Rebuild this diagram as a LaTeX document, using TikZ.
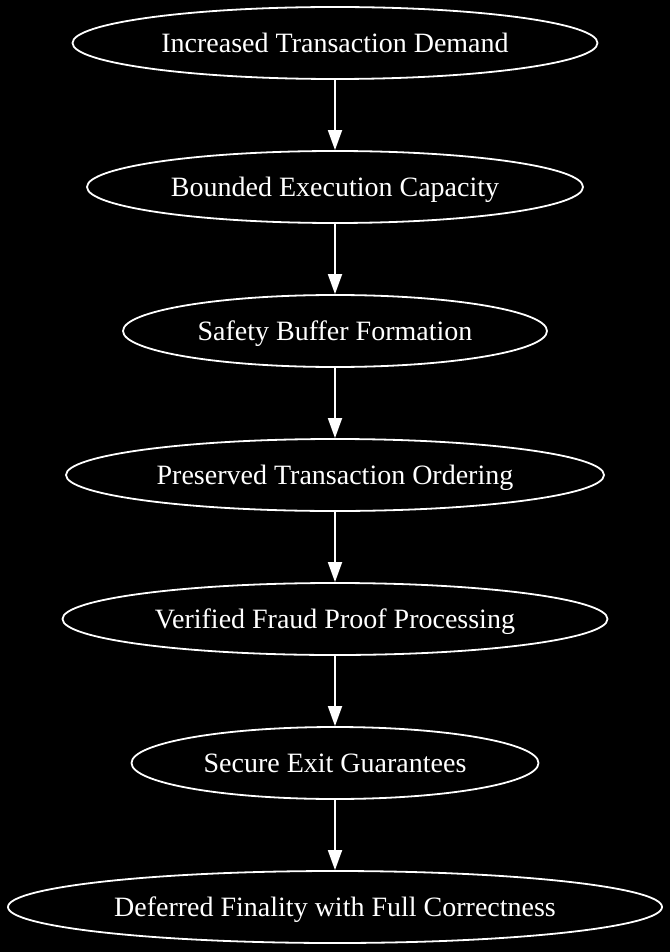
\documentclass[tikz,border=0pt]{standalone}
\usepackage{fontspec}
\setmainfont{Liberation Serif}
\usetikzlibrary{shapes.geometric,arrows.meta}
\begin{document}
\begin{tikzpicture}[x=0.5pt,y=-0.5pt,
 box/.style={ellipse,draw=white,line width=0.9pt,text=white,inner sep=0pt,minimum height=36pt,text height=12.6pt,text depth=3pt,font=\fontsize{14}{16}\selectfont},
 conn/.style={draw=white,line width=0.9pt,-{Triangle[length=10pt,width=7pt]}}]
\fill[black] (0,0) rectangle (670,952);
\node[box,minimum width=262.5pt] (n1) at (335,43) {Increased Transaction Demand};
\node[box,minimum width=248pt] (n2) at (335,187) {Bounded Execution Capacity};
\node[box,minimum width=212pt] (n3) at (335,331) {Safety Buffer Formation};
\node[box,minimum width=269pt] (n4) at (335,475) {Preserved Transaction Ordering};
\node[box,minimum width=272.5pt] (n5) at (335,619) {Verified Fraud Proof Processing};
\node[box,minimum width=203.5pt] (n6) at (335,763) {Secure Exit Guarantees};
\node[box,minimum width=327pt] (n7) at (335,907) {Deferred Finality with Full Correctness};
\draw[conn] (n1) -- (n2);
\draw[conn] (n2) -- (n3);
\draw[conn] (n3) -- (n4);
\draw[conn] (n4) -- (n5);
\draw[conn] (n5) -- (n6);
\draw[conn] (n6) -- (n7);
\end{tikzpicture}
\end{document}
